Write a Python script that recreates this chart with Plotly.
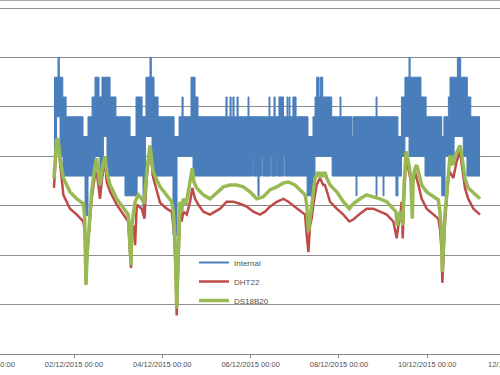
import pandas as pd
import plotly.graph_objects as go

# ---- data (hours since 2015-12-01 00:00) ----
# Internal: step envelope (upper / lower levels of the rapidly toggling signal)
upper_h = [13.1, 15.3, 16.0, 17.9, 19.7, 28.9, 31.6, 33.8, 35.4, 37.6, 39.2, 43.6, 46.8, 54.5, 57.7, 61.0,
           63.1, 65.3, 66.0, 67.5, 69.7, 78.4, 81.1, 82.7, 83.3, 87.6, 89.8, 91.4, 106.6, 107.2, 108.8,
           109.4, 110.4, 111.0, 112.6, 113.2, 118.6, 119.1, 130.0, 130.5, 132.7, 133.3, 135.4, 137.9,
           139.8, 140.3, 140.9, 141.4, 143.0, 144.7, 151.2, 153.9, 155.0, 155.9, 157.2, 157.9, 159.2,
           164.1, 168.6, 169.1, 175.1, 175.7, 188.2, 188.7, 200.1, 202.0, 203.9, 206.1, 206.7, 212.6,
           215.4, 223.9, 225.1, 227.5, 228.4, 232.4, 234.2, 237.8, 239.7, 244.7]
upper_v = [28, 30, 28, 26, 24, 22, 24, 26, 28, 26, 28, 26, 24, 22, 26, 24,
           28, 30, 28, 26, 24, 22, 24, 26, 24, 28, 26, 24, 26, 24, 26,
           24, 26, 24, 26, 24, 26, 24, 26, 24, 26, 24, 26, 24,
           26, 24, 26, 24, 26, 24, 22, 24, 26, 28, 26, 28, 26,
           24, 26, 24, 22, 24, 26, 24, 22, 26, 28, 30, 28, 26,
           24, 22, 24, 26, 28, 30, 28, 26, 24, 24]
lower_h = [13.1, 14.5, 16.4, 18.0, 30.0, 31.6, 35.4, 38.1, 40.0, 41.9, 51.7, 58.3, 61.5, 62.9, 66.4,
           77.8, 80.0, 88.7, 121.0, 121.5, 124.0, 124.6, 126.0, 126.6, 131.0, 131.5, 134.0, 134.6,
           138.0, 138.6, 150.7, 155.0, 164.3, 177.3, 177.8, 188.2, 188.7, 192.0, 192.5, 199.0, 200.1,
           202.0, 203.9, 206.1, 214.8, 223.9, 225.7, 230.6, 235.6, 237.6, 244.7]
lower_v = [20, 24, 20, 18, 14, 18, 20, 18, 22, 18, 16, 18, 14, 22, 18,
           12, 20, 18, 20, 18, 16, 18, 20, 18, 20, 18, 20, 18,
           20, 18, 16, 20, 18, 16, 18, 16, 18, 16, 18, 16, 18,
           20, 22, 20, 18, 16, 20, 22, 20, 18, 18]

# DS18B20
g_h = [13.1, 14.6, 15.5, 16.4, 18.2, 21.8, 25.5, 29.1, 29.8, 30.5,
       31.2, 32.2, 33.6, 35.4, 36.3, 37.2, 38.1, 39.6, 40.9, 41.8,
       43.6, 47.2, 50.8, 53.5, 54.4, 55.0, 55.4, 56.3, 57.2, 59.0,
       60.8, 62.1, 63.5, 65.3, 67.1, 70.8, 74.4, 77.1, 78.0, 78.9,
       79.8, 80.4, 80.9, 81.6, 82.5, 83.4, 84.9, 86.1, 87.4, 88.3,
       89.2, 90.7, 94.3, 97.9, 101.6, 105.2, 108.8, 112.4, 116.0, 119.7,
       123.3, 126.9, 130.5, 134.2, 137.8, 140.5, 144.1, 146.9, 149.6, 150.5,
       151.4, 152.3, 153.2, 154.1, 155.0, 155.9, 156.8, 157.7, 158.6, 159.5,
       160.4, 161.4, 163.2, 166.8, 170.4, 173.7, 175.8, 179.5, 183.1, 186.7,
       190.3, 194.0, 197.6, 199.0, 199.7, 200.8, 201.6, 202.7, 203.4, 204.5,
       205.7, 207.0, 207.9, 208.4, 209.4, 210.3, 211.7, 213.0, 215.7, 219.3,
       222.0, 222.9, 223.9, 224.2, 224.8, 225.7, 226.6, 227.5, 228.4, 229.9,
       231.1, 232.4, 233.8, 234.8, 236.5, 238.3, 241.1, 244.7]
g_v = [17.8, 21.8, 21.6, 19.8, 17.8, 16.4, 15.7, 15.2, 13.8, 7.0,
       10.3, 13.4, 16.4, 19.1, 19.8, 18.3, 17.1, 19.1, 20.0, 18.4,
       17.1, 15.7, 14.7, 14.1, 11.0, 9.0, 13.0, 14.4, 15.4, 16.1,
       15.7, 15.2, 18.4, 21.1, 18.4, 16.9, 16.1, 15.4, 14.4, 11.7,
       4.6, 8.3, 12.4, 15.4, 14.4, 15.7, 15.1, 16.4, 17.8, 18.8,
       17.4, 16.8, 16.1, 15.7, 16.3, 16.9, 17.1, 17.1, 16.9, 16.4,
       15.7, 15.9, 16.6, 16.9, 17.3, 17.4, 17.1, 16.6, 16.1, 15.1,
       12.4, 13.7, 15.4, 16.4, 17.8, 18.1, 18.4, 17.9, 18.4, 17.9,
       18.4, 17.8, 17.1, 16.4, 15.4, 14.7, 15.2, 15.7, 16.1, 15.9,
       15.7, 15.4, 14.7, 14.4, 13.0, 14.1, 14.4, 13.0, 17.1, 20.5,
       19.5, 18.1, 13.7, 17.8, 18.8, 19.1, 18.1, 17.1, 16.4, 15.9,
       15.6, 14.4, 11.7, 8.3, 11.0, 14.4, 16.1, 18.4, 20.1, 19.1,
       20.1, 20.5, 21.1, 20.1, 17.8, 16.8, 16.3, 15.7]

# DHT22
r_h = [13.1, 14.6, 15.8, 17.3, 18.2, 21.8, 25.5, 29.1, 29.8, 30.5,
       31.2, 32.2, 33.6, 35.4, 36.3, 37.2, 38.1, 39.6, 40.9, 41.8,
       43.6, 47.2, 50.8, 53.5, 54.4, 55.0, 55.4, 56.3, 57.2, 58.1,
       60.8, 62.3, 63.5, 65.3, 67.1, 70.8, 74.4, 77.1, 78.4, 79.3,
       79.8, 80.4, 80.9, 81.6, 82.5, 83.4, 85.3, 87.1, 88.3, 89.8,
       91.6, 94.3, 97.9, 100.6, 103.4, 107.0, 110.6, 114.2, 117.9, 121.5,
       125.1, 127.8, 130.5, 134.2, 137.8, 140.5, 144.1, 147.8, 149.6, 150.5,
       151.4, 152.3, 153.2, 154.1, 155.9, 157.7, 159.5, 160.4, 161.4, 163.2,
       166.8, 170.4, 173.7, 175.8, 179.5, 183.1, 186.7, 190.3, 194.0, 197.6,
       199.4, 200.3, 201.2, 202.1, 202.7, 203.4, 204.5, 205.7, 207.5, 208.4,
       209.4, 211.2, 213.0, 215.7, 219.3, 222.0, 222.9, 223.9, 224.2, 224.8,
       225.7, 227.5, 228.4, 229.3, 230.2, 232.0, 233.8, 234.8, 236.5, 238.3,
       241.1, 244.7]
r_v = [16.8, 21.5, 20.5, 17.8, 16.1, 14.7, 14.1, 13.4, 12.4, 7.0,
       10.3, 12.4, 15.7, 18.1, 18.4, 17.1, 15.7, 18.4, 19.1, 17.4,
       16.4, 15.1, 14.1, 13.4, 10.3, 8.7, 12.0, 13.0, 11.0, 15.1,
       14.7, 13.7, 17.8, 20.8, 17.8, 15.3, 14.7, 14.4, 12.4, 8.3,
       3.9, 7.7, 11.0, 14.4, 13.4, 14.4, 14.1, 15.4, 16.8, 15.7,
       15.1, 14.4, 14.1, 14.4, 14.7, 15.4, 15.4, 15.2, 14.9, 14.4,
       14.1, 14.4, 14.9, 15.4, 15.7, 15.4, 14.9, 14.4, 14.1, 12.0,
       10.3, 13.0, 13.7, 15.1, 17.1, 17.8, 17.1, 17.1, 16.4, 15.4,
       14.7, 14.1, 13.4, 13.6, 14.2, 14.7, 14.7, 14.4, 14.1, 13.4,
       11.7, 13.0, 13.7, 15.4, 11.7, 15.7, 19.8, 18.8, 17.1, 17.4,
       18.4, 17.1, 15.7, 14.7, 14.1, 13.7, 12.7, 10.3, 7.2, 9.3,
       13.4, 17.8, 18.4, 18.1, 17.8, 19.5, 20.5, 19.1, 16.8, 15.7,
       14.7, 14.1]

tick_labels_edge = ["30/11/2015 00:00", "12/12/2015 00:00"]

assert len(upper_h) == len(upper_v) and len(lower_h) == len(lower_v)
assert len(g_h) == len(g_v) and len(r_h) == len(r_v)

BASE = pd.Timestamp("2015-12-01")


def to_time(hours):
    return [BASE + pd.Timedelta(hours=h) for h in hours]


BLUE = "#4A7EBB"
RED = "#BE4B48"
GREEN = "#98B954"
GRID = "#8c8c8c"
TXT = "#505050"
FONT = "Liberation Sans"

fig = go.Figure()
fig.add_trace(go.Scatter(x=to_time(lower_h), y=lower_v, mode="lines",
                         line=dict(shape="hv", color=BLUE, width=1),
                         showlegend=False, hoverinfo="skip"))
fig.add_trace(go.Scatter(x=to_time(upper_h), y=upper_v, mode="lines",
                         line=dict(shape="hv", color=BLUE, width=1),
                         fill="tonexty", fillcolor=BLUE,
                         showlegend=False, hoverinfo="skip"))
fig.add_trace(go.Scatter(x=[None], y=[None], mode="lines", name="Internal",
                         line=dict(color=BLUE, width=2)))
fig.add_trace(go.Scatter(x=to_time(r_h), y=r_v, mode="lines", name="DHT22",
                         line=dict(color=RED, width=2.5)))
fig.add_trace(go.Scatter(x=to_time(g_h), y=g_v, mode="lines", name="DS18B20",
                         line=dict(color=GREEN, width=3.5)))

fig.update_layout(
    width=500, height=375,
    margin=dict(l=0, r=0, t=0, b=21, pad=0),
    paper_bgcolor="white", plot_bgcolor="white",
    font=dict(family=FONT, size=8, color=TXT),
    showlegend=True,
    legend=dict(x=0.388, y=(354 - 248) / 354, xanchor="left", yanchor="top",
                traceorder="normal",
                bgcolor="rgba(0,0,0,0)", font=dict(family=FONT, size=8, color=TXT),
                tracegroupgap=0),
    xaxis=dict(type="date", range=["2015-11-30 07:46", "2015-12-11 15:34"],
               tickformat="%d/%m/%Y %H:%M", tick0="2015-12-02", dtick=172800000,
               ticks="outside", ticklen=3, tickcolor="#868686",
               showline=True, linecolor="#868686", linewidth=1,
               showgrid=False, zeroline=False,
               tickfont=dict(family=FONT, size=7.5, color=TXT)),
    yaxis=dict(range=[0, 35.81], tick0=0, dtick=5, showgrid=True, gridcolor=GRID,
               gridwidth=1, showticklabels=False, zeroline=False, ticks=""),
    shapes=[dict(type="line", xref="paper", yref="paper", x0=0, x1=1,
                 y0=0.9986, y1=0.9986, line=dict(color="#a6a6a6", width=1))],
    annotations=[
        dict(text=tick_labels_edge[0], xref="paper", yref="paper", x=-14.3 / 500, y=0,
             xanchor="center", yanchor="top", yshift=-4, showarrow=False,
             font=dict(family=FONT, size=7.5, color=TXT)),
        dict(text=tick_labels_edge[1], xref="paper", yref="paper", x=516.5 / 500, y=0,
             xanchor="center", yanchor="top", yshift=-4, showarrow=False,
             font=dict(family=FONT, size=7.5, color=TXT)),
    ],
)

fig.write_html("out.html", config={"displayModeBar": False},
               post_script="document.body.style.margin='0';document.body.style.overflow='hidden';")
